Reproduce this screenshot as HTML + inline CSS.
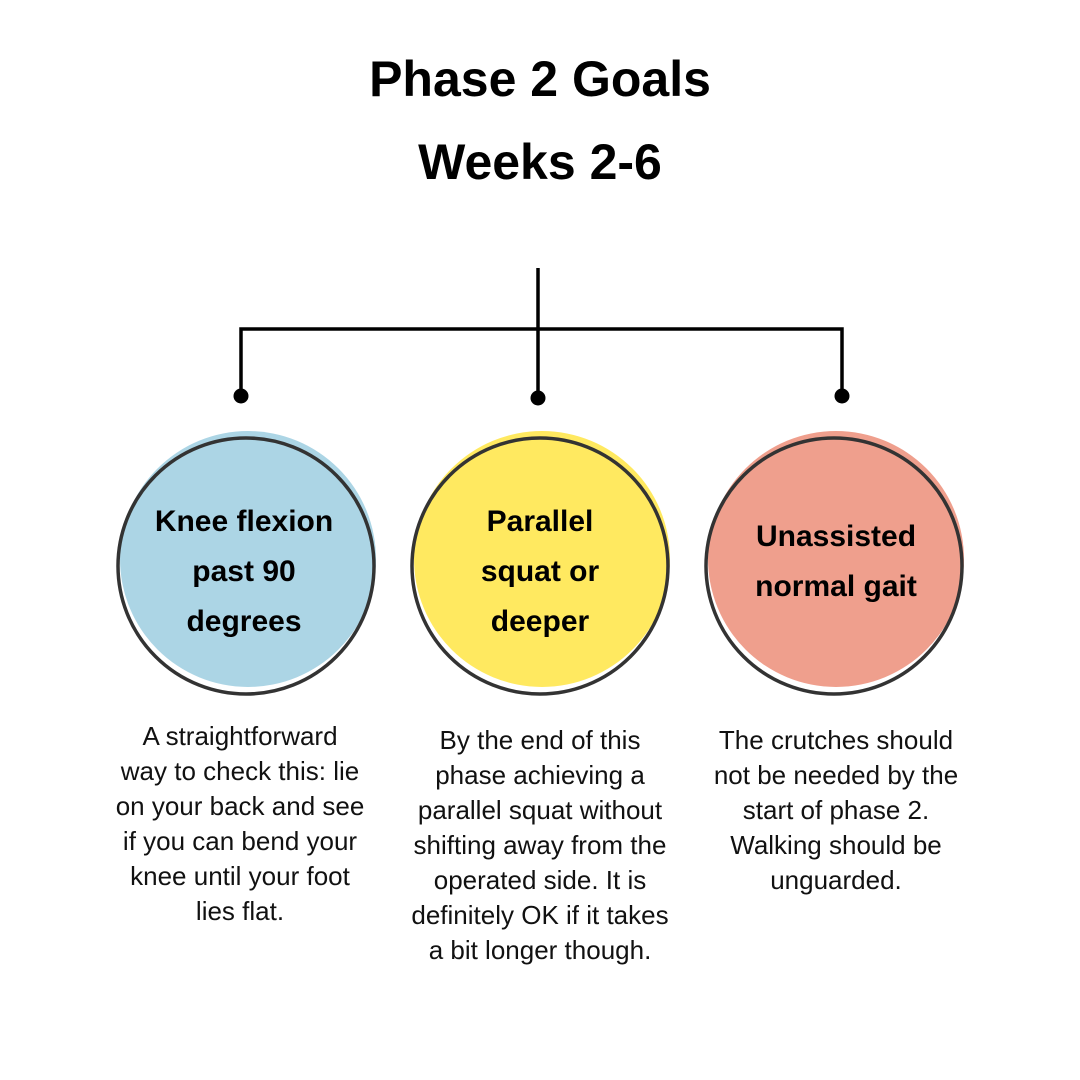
<!DOCTYPE html>
<html><head><style>
body{margin:0;width:1080px;height:1080px;background:#fff;position:relative;font-family:"Liberation Sans",sans-serif;overflow:hidden}
.t{position:absolute;left:0;width:1080px;text-align:center;font-weight:bold;font-size:50px;color:#000}
.c{position:absolute;text-align:center;font-weight:bold;font-size:30px;line-height:50px;color:#000;width:240px}
.d{position:absolute;text-align:center;font-size:26px;line-height:35px;color:#111;width:320px;white-space:nowrap}
</style></head><body>
<div class="t" style="top:50px">Phase 2 Goals</div>
<div class="t" style="top:133px">Weeks 2-6</div>
<svg width="1080" height="1080" style="position:absolute;left:0;top:0">
<g stroke="#000" stroke-width="3.5" fill="none">
<line x1="538" y1="268" x2="538" y2="397"/>
<polyline points="241,396 241,329 842,329 842,396"/>
</g>
<g fill="#000"><circle cx="241" cy="396" r="7.5"/><circle cx="538" cy="398" r="7.5"/><circle cx="842" cy="396" r="7.5"/></g>
<circle cx="248" cy="559" r="128" fill="#acd5e5"/>
<circle cx="542" cy="559" r="128" fill="#ffe960"/>
<circle cx="836" cy="559" r="128" fill="#ef9f8d"/>
<g stroke="#333" stroke-width="3.5" fill="none">
<circle cx="246" cy="566" r="128"/>
<circle cx="540" cy="566" r="128"/>
<circle cx="834" cy="566" r="128"/>
</g>
</svg>
<div class="c" style="left:124px;top:497px">Knee flexion<br>past 90<br>degrees</div>
<div class="c" style="left:420px;top:497px">Parallel<br>squat or<br>deeper</div>
<div class="c" style="left:716px;top:512px">Unassisted<br>normal gait</div>
<div class="d" style="left:80px;top:719px">A straightforward<br>way to check this: lie<br>on your back and see<br>if you can bend your<br>knee until your foot<br>lies flat.</div>
<div class="d" style="left:380px;top:723px">By the end of this<br>phase achieving a<br>parallel squat without<br>shifting away from the<br>operated side. It is<br>definitely OK if it takes<br>a bit longer though.</div>
<div class="d" style="left:676px;top:723px">The crutches should<br>not be needed by the<br>start of phase 2.<br>Walking should be<br>unguarded.</div>
</body></html>
